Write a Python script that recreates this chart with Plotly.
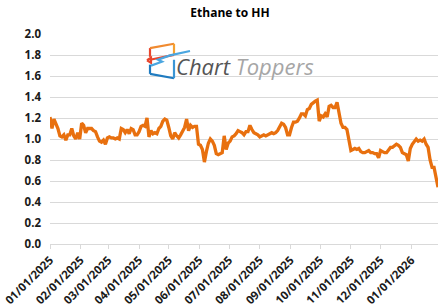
import pandas as pd
import plotly.graph_objects as go

start_date = "2025-01-01"
end_date = "2026-01-28"
step = "2D"
values = [
    1.21, 1.10, 1.19, 1.15, 1.10, 1.03, 1.02, 1.04, 0.99, 1.04,
    1.04, 1.10, 1.03, 1.00, 1.06, 1.00, 1.15, 1.13, 1.06, 1.10,
    1.10, 1.10, 1.08, 1.07, 1.02, 0.98, 0.97, 0.99, 0.95, 1.01,
    1.02, 1.01, 1.01, 1.00, 1.01, 1.00, 1.10, 1.09, 1.06, 1.09,
    1.05, 1.10, 1.09, 1.04, 1.04, 1.07, 1.12, 1.13, 1.12, 1.20,
    1.02, 1.08, 1.05, 1.06, 1.05, 1.10, 1.12, 1.17, 1.19, 1.18,
    1.11, 1.03, 1.00, 1.06, 1.03, 1.01, 1.04, 1.08, 1.11, 1.19,
    1.08, 1.13, 1.11, 1.12, 1.12, 0.95, 0.94, 0.90, 0.78, 0.88,
    0.96, 1.00, 0.98, 0.94, 0.86, 0.85, 0.86, 0.87, 1.03, 0.90,
    0.96, 0.98, 1.02, 1.03, 1.05, 1.08, 1.07, 1.06, 1.04, 1.07,
    1.07, 1.13, 1.09, 1.06, 1.05, 1.04, 1.02, 1.03, 1.04, 1.03,
    1.04, 1.05, 1.06, 1.05, 1.06, 1.08, 1.12, 1.15, 1.14, 1.11,
    1.04, 1.04, 1.11, 1.16, 1.16, 1.17, 1.20, 1.24, 1.24, 1.22,
    1.28, 1.29, 1.33, 1.35, 1.36, 1.37, 1.17, 1.22, 1.21, 1.24,
    1.21, 1.31, 1.32, 1.30, 1.30, 1.35, 1.25, 1.15, 1.11, 1.11,
    1.09, 0.98, 0.89, 0.90, 0.91, 0.90, 0.91, 0.88, 0.87, 0.87,
    0.88, 0.89, 0.87, 0.87, 0.86, 0.86, 0.82, 0.89, 0.88, 0.87,
    0.87, 0.89, 0.92, 0.92, 0.94, 0.95, 0.94, 0.92, 0.87, 0.86,
    0.85, 0.79, 0.91, 0.95, 0.98, 1.00, 0.98, 0.99, 0.98, 1.00,
    0.95, 0.92, 0.80, 0.73, 0.73, 0.62, 0.54,
]
dates = pd.date_range(start_date, periods=len(values), freq=step)
tick_dates = pd.date_range("2025-01-01", "2026-01-01", freq="MS")
tick_labels = [d.strftime("%m/%d/%Y") for d in tick_dates]
y_ticks = [0.0, 0.2, 0.4, 0.6, 0.8, 1.0, 1.2, 1.4, 1.6, 1.8, 2.0]

W, H = 438, 307
L, R, T, B = 50, 0, 33.5, 57.5
PW, PH = W - L - R, H - T - B


def px(x):
    return (x - L) / PW


def py(y):
    return (H - B - y) / PH


fig = go.Figure()
fig.add_trace(go.Scatter(
    x=dates, y=values, mode="lines",
    line=dict(color="#E8700F", width=3.3),
    hoverinfo="skip", showlegend=False,
))

FONT = "Open Sans"

# logo icon (decorative)
def path(points):
    return "M " + " L ".join(f"{px(a):.5f},{py(b):.5f}" for a, b in points)

icon = [
    ([(150, 57), (150, 48)], "#E8452C"),
    ([(150, 48), (174, 43.5)], "#F08A30"),
    ([(174, 43.5), (174, 55)], "#F5A030"),
    ([(174, 55), (150, 60)], "#E8452C"),
    ([(147, 60.5), (151, 58), (151, 63), (147, 60.5)], "#E8452C"),
    ([(150, 65), (150, 74.5)], "#1F7BC0"),
    ([(150, 74.5), (174, 79)], "#1F7BC0"),
    ([(174, 79), (174, 60)], "#3A95D5"),
    ([(151, 66), (162, 62), (158, 60), (170, 55.5), (190, 51)], "#4AA6E0"),
]
shapes = []
for pts, col in icon:
    shapes.append(dict(type="path", xref="paper", yref="paper",
                       path=path(pts), line=dict(color=col, width=2.2),
                       layer="above"))

fig.update_layout(
    width=W, height=H,
    margin=dict(l=L, r=R, t=T, b=B),
    paper_bgcolor="white", plot_bgcolor="white",
    font=dict(family=FONT, color="#1a1a1a"),
    title=dict(text="<b>Ethane to HH</b>", x=230 / W, xanchor="center",
               y=1 - 13 / H, yanchor="middle",
               font=dict(size=12, family=FONT, color="#000000")),
    xaxis=dict(
        type="date", range=[start_date, end_date],
        tickvals=tick_dates, ticktext=[f"<b>{t}</b>" for t in tick_labels],
        tickangle=-45, tickfont=dict(size=11.5, family=FONT, color="#1a1a1a"),
        showgrid=False, showline=True, linecolor="#D9D9D9", linewidth=1,
        ticks="outside", ticklen=4, tickcolor="#D9D9D9", zeroline=False,
    ),
    yaxis=dict(
        range=[0, 2.0], tickvals=y_ticks,
        ticktext=[f"<b>{v:.1f}</b>" for v in y_ticks],
        tickfont=dict(size=11.5, family=FONT, color="#1a1a1a"),
        showgrid=True, gridcolor="#D9D9D9", gridwidth=1,
        zeroline=False, showline=False, ticks="", ticklabelstandoff=8,
    ),
    shapes=shapes,
    annotations=[dict(
        xref="paper", yref="paper", x=px(245), y=py(66),
        xanchor="center", yanchor="middle", showarrow=False,
        text="<i><span style='color:#555555'>Chart</span> "
             "<span style='color:#A6A6A6'>Toppers</span></i>",
        font=dict(size=22, family=FONT),
    )],
)

fig.write_html("out.html")
